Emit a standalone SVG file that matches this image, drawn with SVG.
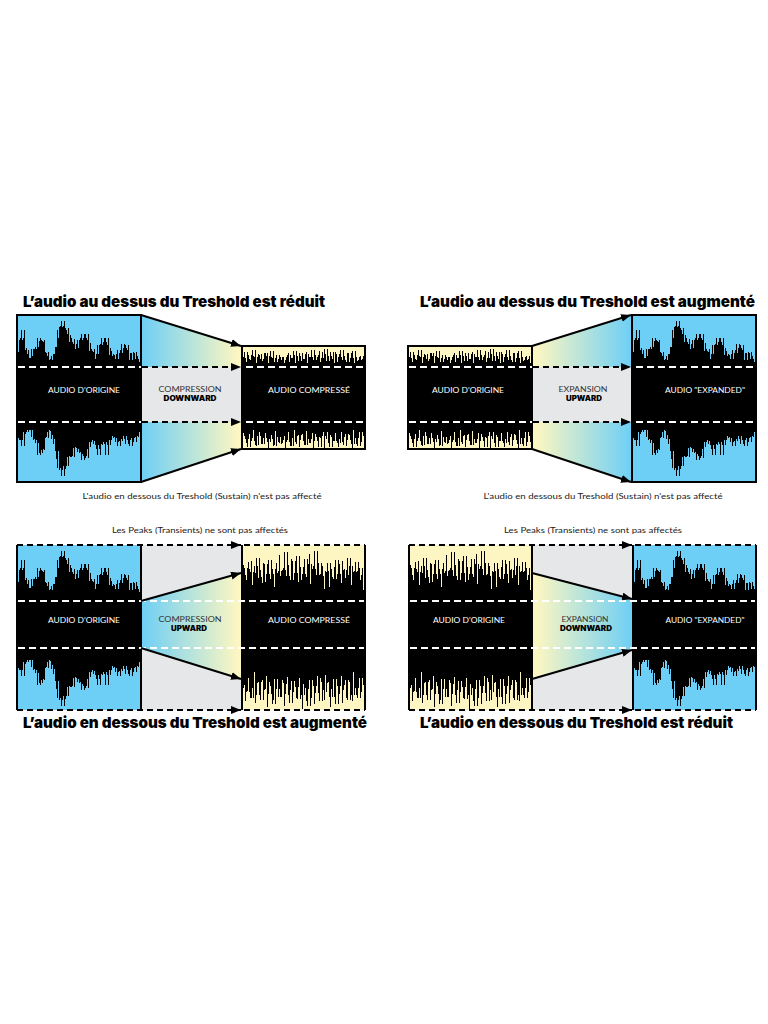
<svg xmlns="http://www.w3.org/2000/svg" xmlns:xlink="http://www.w3.org/1999/xlink" width="768" height="1024" viewBox="0 0 768 1024">
<style>
.title{font-family:Inter,Lato,"Liberation Sans",sans-serif;font-weight:900;font-size:15px;fill:#000}
.cap{font-family:Lato,"Liberation Sans",sans-serif;font-size:7px;fill:#222}
.lbl{font-family:Lato,"Liberation Sans",sans-serif;font-size:7px;fill:#fff}
.mid{font-family:Lato,"Liberation Sans",sans-serif;font-size:7.5px;fill:#333}
.midb{font-family:Inter,Lato,"Liberation Sans",sans-serif;font-size:7.5px;font-weight:900;fill:#000}
.blue{fill:#6dcff6}
.yel{fill:#fdf6c3}
.gray{fill:#e6e7e8}
.wave{fill:#000}
.out{fill:none;stroke:#000;stroke-width:2}
.edge{stroke:#000;stroke-width:2}
.thr{stroke:#fff;stroke-width:2;stroke-dasharray:7 4;fill:none}
.dsh{stroke:#000;stroke-width:2;stroke-dasharray:6 4;fill:none}
.arr{stroke:#000;stroke-width:2;fill:none}
</style>
<defs>
<linearGradient id="gBY" x1="0" y1="0" x2="1" y2="0">
<stop offset="0" stop-color="#6dcff6"/><stop offset="0.95" stop-color="#fbf6c2"/><stop offset="1" stop-color="#fdf6c3"/>
</linearGradient>
<linearGradient id="gYB" x1="0" y1="0" x2="1" y2="0">
<stop offset="0" stop-color="#fdf6c3"/><stop offset="0.05" stop-color="#fbf6c2"/><stop offset="1" stop-color="#6dcff6"/>
</linearGradient>
<marker id="ah" viewBox="0 0 10 8" refX="10" refY="4" markerWidth="10" markerHeight="8" markerUnits="userSpaceOnUse" orient="auto">
<path d="M0,0L10,4L0,8z" fill="#000"/>
</marker>
<clipPath id="cb"><rect x="17" y="315" width="124" height="167"/></clipPath>
<clipPath id="cys"><rect x="242" y="346" width="123" height="103"/></clipPath>
<clipPath id="cyl"><rect x="242" y="545" width="123" height="165"/></clipPath>
<path id="wbp" class="wave" d="M17,400V345h1V352h1V340h1V338h1V330h1V352h1V348h1V354h1V350h1V362h1V358h1V357h1V358h1V362h1V349h1V356h1V349h1V349h1V347h1V355h1V338h1V348h1V341h1V342h1V340h1V356h1V353h1V356h1V352h1V362h1V359h1V362h1V360h1V362h1V356h1V362h1V354h1V354h1V347h1V347h1V330h1V338h1V327h1V326h1V321h1V338h1V330h1V334h1V328h1V344h1V335h1V338h1V342h1V357h1V339h1V349h1V344h1V348h1V349h1V357h1V340h1V348h1V340h1V338h1V334h1V346h1V338h1V340h1V334h1V356h1V343h1V355h1V351h1V352h1V349h1V362h1V354h1V360h1V359h1V360h1V345h1V354h1V345h1V344h1V338h1V353h1V342h1V345h1V338h1V355h1V348h1V351h1V356h1V362h1V355h1V362h1V354h1V358h1V359h1V362h1V350h1V360h1V353h1V350h1V344h1V356h1V348h1V350h1V345h1V362h1V353h1V362h1V360h1V359h1V353h1V362h1V352h1V359h1V359h1V362h1V356h1V362h1V362h1V432h-1V430h-1V436h-1V429h-1V437h-1V431h-1V442h-1V429h-1V438h-1V433h-1V446h-1V430h-1V440h-1V432h-1V444h-1V430h-1V436h-1V431h-1V439h-1V430h-1V441h-1V436h-1V446h-1V431h-1V442h-1V430h-1V438h-1V429h-1V437h-1V430h-1V436h-1V440h-1V445h-1V440h-1V455h-1V436h-1V442h-1V441h-1V444h-1V438h-1V445h-1V433h-1V455h-1V449h-1V445h-1V436h-1V444h-1V436h-1V441h-1V430h-1V440h-1V442h-1V447h-1V442h-1V458h-1V449h-1V456h-1V454h-1V460h-1V443h-1V453h-1V449h-1V452h-1V437h-1V441h-1V431h-1V448h-1V447h-1V457h-1V445h-1V456h-1V456h-1V457h-1V452h-1V466h-1V454h-1V466h-1V469h-1V476h-1V466h-1V470h-1V451h-1V468h-1V459h-1V451h-1V439h-1V444h-1V435h-1V439h-1V430h-1V430h-1V429h-1V431h-1V430h-1V438h-1V432h-1V437h-1V431h-1V450h-1V449h-1V453h-1V443h-1V455h-1V433h-1V443h-1V439h-1V440h-1V430h-1V437h-1V430h-1V430h-1V428h-1V430h-1V428h-1V432h-1V429h-1V432h-1V434h-1V446h-1V428h-1V440h-1V438h-1V440h-1Z"/>
<path id="wysp" class="wave" d="M242,395V358h1V368h1V352h1V366h1V362h1V371h1V355h1V367h1V360h1V369h1V350h1V365h1V357h1V370h1V363h1V368h1V354h1V366h1V359h1V372h1V361h1V368h1V353h1V366h1V356h1V371h1V364h1V367h1V351h1V369h1V358h1V365h1V362h1V370h1V355h1V368h1V360h1V366h1V357h1V372h1V372h1V357h1V366h1V360h1V368h1V355h1V370h1V362h1V365h1V358h1V369h1V351h1V367h1V364h1V371h1V356h1V366h1V353h1V368h1V361h1V372h1V359h1V366h1V354h1V368h1V363h1V370h1V357h1V365h1V350h1V369h1V360h1V367h1V355h1V371h1V362h1V366h1V352h1V368h1V358h1V355h1V367h1V349h1V369h1V361h1V366h1V356h1V370h1V352h1V368h1V359h1V365h1V363h1V371h1V354h1V367h1V357h1V369h1V350h1V366h1V360h1V372h1V356h1V368h1V362h1V365h1V353h1V370h1V358h1V367h1V351h1V369h1V364h1V366h1V357h1V371h1V360h1V368h1V356h1V367h1V359h1V368h1V436h-1V425h-1V442h-1V427h-1V432h-1V424h-1V446h-1V429h-1V438h-1V426h-1V430h-1V428h-1V444h-1V424h-1V435h-1V426h-1V440h-1V430h-1V434h-1V425h-1V445h-1V425h-1V431h-1V427h-1V439h-1V424h-1V443h-1V429h-1V433h-1V426h-1V441h-1V428h-1V437h-1V424h-1V447h-1V426h-1V432h-1V430h-1V436h-1V425h-1V425h-1V436h-1V430h-1V432h-1V426h-1V447h-1V424h-1V437h-1V428h-1V441h-1V426h-1V433h-1V429h-1V443h-1V424h-1V439h-1V427h-1V431h-1V425h-1V445h-1V425h-1V434h-1V430h-1V440h-1V426h-1V435h-1V424h-1V444h-1V428h-1V430h-1V426h-1V438h-1V429h-1V446h-1V424h-1V432h-1V427h-1V442h-1V425h-1V436h-1V440h-1V427h-1V434h-1V424h-1V443h-1V426h-1V437h-1V429h-1V431h-1V425h-1V446h-1V428h-1V435h-1V424h-1V439h-1V426h-1V442h-1V430h-1V433h-1V427h-1V438h-1V425h-1V444h-1V428h-1V432h-1V424h-1V436h-1V429h-1V445h-1V426h-1V430h-1V427h-1V441h-1V425h-1V434h-1V430h-1V447h-1V424h-1V439h-1V426h-1V433h-1V427h-1Z"/>
<path id="wylp" class="wave" d="M242,625V575h1V592h1V568h1V588h1V580h1V596h1V562h1V590h1V572h1V594h1V585h1V586h1V566h1V597h1V558h1V591h1V578h1V589h1V570h1V595h1V583h1V592h1V564h1V588h1V574h1V596h1V560h1V590h1V579h1V594h1V569h1V586h1V587h1V597h1V563h1V591h1V571h1V589h1V576h1V595h1V570h1V590h1V552h1V594h1V576h1V588h1V565h1V596h1V580h1V591h1V561h1V587h1V573h1V595h1V556h1V589h1V582h1V593h1V567h1V590h1V574h1V586h1V559h1V597h1V577h1V592h1V564h1V588h1V584h1V594h1V569h1V591h1V551h1V589h1V575h1V596h1V563h1V590h1V579h1V593h1V595h1V576h1V589h1V571h1V591h1V563h1V597h1V587h1V586h1V569h1V594h1V579h1V590h1V560h1V596h1V574h1V588h1V564h1V592h1V583h1V595h1V570h1V589h1V578h1V591h1V558h1V597h1V566h1V586h1V585h1V594h1V572h1V590h1V562h1V596h1V580h1V588h1V568h1V592h1V575h1V568h1V592h1V685h-1V655h-1V692h-1V660h-1V678h-1V652h-1V698h-1V664h-1V688h-1V657h-1V672h-1V662h-1V695h-1V654h-1V682h-1V658h-1V700h-1V666h-1V680h-1V653h-1V690h-1V655h-1V676h-1V660h-1V694h-1V652h-1V686h-1V664h-1V704h-1V657h-1V679h-1V662h-1V689h-1V654h-1V697h-1V658h-1V683h-1V666h-1V675h-1V653h-1V690h-1V658h-1V682h-1V654h-1V701h-1V661h-1V676h-1V656h-1V693h-1V665h-1V686h-1V653h-1V698h-1V659h-1V680h-1V663h-1V706h-1V657h-1V688h-1V652h-1V684h-1V660h-1V695h-1V656h-1V678h-1V664h-1V699h-1V654h-1V687h-1V661h-1V692h-1V658h-1V681h-1V655h-1V703h-1V662h-1V677h-1V657h-1V694h-1V653h-1V653h-1V675h-1V666h-1V683h-1V658h-1V697h-1V654h-1V689h-1V662h-1V679h-1V657h-1V704h-1V664h-1V686h-1V652h-1V694h-1V660h-1V676h-1V655h-1V690h-1V653h-1V680h-1V666h-1V700h-1V658h-1V682h-1V654h-1V695h-1V662h-1V672h-1V657h-1V688h-1V664h-1V698h-1V652h-1V678h-1V660h-1V692h-1V655h-1V685h-1V688h-1V659h-1Z"/>
<g id="wb" clip-path="url(#cb)">
<use xlink:href="#wbp"/><use xlink:href="#wbp" x="3"/>
</g>
<g id="wys" clip-path="url(#cys)">
<rect class="wave" x="242" y="363" width="123" height="66"/>
<use xlink:href="#wysp"/><use xlink:href="#wysp" x="3"/><use xlink:href="#wysp" x="-5" y="2"/>
</g>
<g id="wyl" clip-path="url(#cyl)">
<rect class="wave" x="242" y="590" width="123" height="70"/>
<use xlink:href="#wylp"/><use xlink:href="#wylp" x="3"/><use xlink:href="#wylp" x="-5" y="3"/>
</g>
</defs>
<rect width="768" height="1024" fill="#fff"/>

<!-- ===== Panel 1: top-left ===== -->
<text class="title" x="23" y="307" textLength="302" lengthAdjust="spacingAndGlyphs">L’audio au dessus du Treshold est réduit</text>
<g id="tl-process">
<polygon points="141,315 242,346 242,449 141,482" fill="url(#gBY)"/>
<rect class="gray" x="141" y="367" width="101" height="55"/>
<text class="mid" x="190" y="392" text-anchor="middle" textLength="63" lengthAdjust="spacingAndGlyphs">COMPRESSION</text>
<text class="midb" x="190" y="401" text-anchor="middle" textLength="53" lengthAdjust="spacingAndGlyphs">DOWNWARD</text>
</g>
<g id="tl-origin">
<rect class="blue" x="17" y="315" width="124" height="167"/>
<use xlink:href="#wb"/>
<rect class="out" x="17" y="315" width="124" height="167"/>
<text class="lbl" x="84" y="393" text-anchor="middle" textLength="72" lengthAdjust="spacingAndGlyphs">AUDIO D'ORIGINE</text>
</g>
<g id="tl-result">
<rect class="yel" x="242" y="346" width="123" height="103"/>
<use xlink:href="#wys"/>
<rect class="out" x="242" y="346" width="123" height="103"/>
<text class="lbl" x="309" y="393" text-anchor="middle" textLength="82" lengthAdjust="spacingAndGlyphs">AUDIO COMPRESSÉ</text>
</g>
<text class="cap" x="202" y="499" text-anchor="middle" textLength="239" lengthAdjust="spacingAndGlyphs">L'audio en dessous du Treshold (Sustain) n'est pas affecté</text>

<!-- ===== Panel 2: top-right ===== -->
<text class="title" x="420" y="307" textLength="335" lengthAdjust="spacingAndGlyphs">L’audio au dessus du Treshold est augmenté</text>
<g id="tr-process">
<polygon points="532,346 632,315 632,482 532,449" fill="url(#gYB)"/>
<rect class="gray" x="532" y="367" width="100" height="55"/>
<text class="mid" x="583" y="392" text-anchor="middle" textLength="49" lengthAdjust="spacingAndGlyphs">EXPANSION</text>
<text class="midb" x="584" y="401" text-anchor="middle" textLength="36" lengthAdjust="spacingAndGlyphs">UPWARD</text>
</g>
<g id="tr-origin">
<rect class="yel" x="408" y="346" width="124" height="103"/>
<use xlink:href="#wys" transform="translate(166,0)"/>
<rect class="out" x="408" y="346" width="124" height="103"/>
<text class="lbl" x="468" y="393" text-anchor="middle" textLength="72" lengthAdjust="spacingAndGlyphs">AUDIO D'ORIGINE</text>
</g>
<g id="tr-result">
<rect class="blue" x="632" y="315" width="124" height="167"/>
<use xlink:href="#wb" transform="translate(615,0)"/>
<rect class="out" x="632" y="315" width="124" height="167"/>
<text class="lbl" x="705" y="393" text-anchor="middle" textLength="80" lengthAdjust="spacingAndGlyphs">AUDIO "EXPANDED"</text>
</g>
<text class="cap" x="603" y="499" text-anchor="middle" textLength="239" lengthAdjust="spacingAndGlyphs">L'audio en dessous du Treshold (Sustain) n'est pas affecté</text>

<!-- ===== Panel 3: bottom-left ===== -->
<text class="cap" x="200" y="533" text-anchor="middle" textLength="176" lengthAdjust="spacingAndGlyphs">Les Peaks (Transients) ne sont pas affectés</text>
<g id="bl-process">
<rect class="gray" x="141" y="545" width="101" height="165"/>
<polygon points="141,601 242,573 242,679 141,648" fill="url(#gBY)"/>
<text class="mid" x="190" y="622" text-anchor="middle" textLength="63" lengthAdjust="spacingAndGlyphs">COMPRESSION</text>
<text class="midb" x="189" y="631" text-anchor="middle" textLength="36" lengthAdjust="spacingAndGlyphs">UPWARD</text>
</g>
<g id="bl-origin">
<rect class="blue" x="17" y="545" width="124" height="165"/>
<use xlink:href="#wb" transform="translate(0,230)"/>
<line class="edge" x1="17" y1="545" x2="17" y2="710"/>
<line class="edge" x1="141" y1="545" x2="141" y2="710"/>
<text class="lbl" x="84" y="623" text-anchor="middle" textLength="72" lengthAdjust="spacingAndGlyphs">AUDIO D'ORIGINE</text>
</g>
<g id="bl-result">
<rect class="yel" x="242" y="545" width="123" height="165"/>
<use xlink:href="#wyl"/>
<line class="edge" x1="242" y1="545" x2="242" y2="710"/>
<line class="edge" x1="365" y1="545" x2="365" y2="710"/>
<text class="lbl" x="309" y="623" text-anchor="middle" textLength="82" lengthAdjust="spacingAndGlyphs">AUDIO COMPRESSÉ</text>
</g>
<text class="title" x="23" y="728" textLength="344" lengthAdjust="spacingAndGlyphs">L’audio en dessous du Treshold est augmenté</text>

<!-- ===== Panel 4: bottom-right ===== -->
<text class="cap" x="593" y="533" text-anchor="middle" textLength="178" lengthAdjust="spacingAndGlyphs">Les Peaks (Transients) ne sont pas affectés</text>
<g id="br-process">
<rect class="gray" x="532" y="545" width="101" height="165"/>
<polygon points="532,573 633,599 633,650 532,679" fill="url(#gYB)"/>
<text class="mid" x="585" y="622" text-anchor="middle" textLength="47" lengthAdjust="spacingAndGlyphs">EXPANSION</text>
<text class="midb" x="586" y="631" text-anchor="middle" textLength="52" lengthAdjust="spacingAndGlyphs">DOWNWARD</text>
</g>
<g id="br-origin">
<rect class="yel" x="409" y="545" width="123" height="165"/>
<use xlink:href="#wyl" transform="translate(167,0)"/>
<line class="edge" x1="409" y1="545" x2="409" y2="710"/>
<line class="edge" x1="532" y1="545" x2="532" y2="710"/>
<text class="lbl" x="469" y="623" text-anchor="middle" textLength="72" lengthAdjust="spacingAndGlyphs">AUDIO D'ORIGINE</text>
</g>
<g id="br-result">
<rect class="blue" x="633" y="545" width="123" height="165"/>
<use xlink:href="#wb" transform="translate(616,230)"/>
<line class="edge" x1="633" y1="545" x2="633" y2="710"/>
<line class="edge" x1="756" y1="545" x2="756" y2="710"/>
<text class="lbl" x="705" y="623" text-anchor="middle" textLength="79" lengthAdjust="spacingAndGlyphs">AUDIO "EXPANDED"</text>
</g>
<text class="title" x="420" y="728" textLength="313" lengthAdjust="spacingAndGlyphs">L’audio en dessous du Treshold est réduit</text>

<!-- ===== Connectors ===== -->
<g id="connectors">
<!-- top-left -->
<line class="thr" x1="18" y1="367" x2="141" y2="367"/>
<line class="thr" x1="18" y1="422" x2="141" y2="422"/>
<line class="thr" x1="246" y1="367" x2="364" y2="367"/>
<line class="thr" x1="246" y1="422" x2="364" y2="422"/>
<line class="dsh" x1="142" y1="367" x2="241" y2="367" marker-end="url(#ah)"/>
<line class="dsh" x1="142" y1="422" x2="241" y2="422" marker-end="url(#ah)"/>
<line class="arr" x1="141" y1="315" x2="241" y2="346" marker-end="url(#ah)"/>
<line class="arr" x1="141" y1="482" x2="241" y2="449" marker-end="url(#ah)"/>
<!-- top-right -->
<line class="thr" x1="409" y1="367" x2="532" y2="367"/>
<line class="thr" x1="636" y1="367" x2="755" y2="367"/>
<line class="thr" x1="409" y1="422" x2="532" y2="422"/>
<line class="thr" x1="636" y1="422" x2="755" y2="422"/>
<line class="dsh" x1="533" y1="367" x2="631" y2="367" marker-end="url(#ah)"/>
<line class="dsh" x1="533" y1="422" x2="631" y2="422" marker-end="url(#ah)"/>
<line class="arr" x1="532" y1="346" x2="631" y2="315" marker-end="url(#ah)"/>
<line class="arr" x1="532" y1="449" x2="631" y2="482" marker-end="url(#ah)"/>
<!-- bottom-left -->
<line class="thr" x1="18" y1="601" x2="364" y2="601"/>
<line class="thr" x1="18" y1="648" x2="364" y2="648"/>
<line class="dsh" x1="17" y1="545" x2="241" y2="545" marker-end="url(#ah)"/>
<line class="dsh" x1="244" y1="545" x2="365" y2="545"/>
<line class="dsh" x1="17" y1="710" x2="241" y2="710" marker-end="url(#ah)"/>
<line class="dsh" x1="244" y1="710" x2="365" y2="710"/>
<line class="arr" x1="141" y1="601" x2="241" y2="573" marker-end="url(#ah)"/>
<line class="arr" x1="141" y1="648" x2="241" y2="679" marker-end="url(#ah)"/>
<!-- bottom-right -->
<line class="thr" x1="410" y1="601" x2="755" y2="601"/>
<line class="thr" x1="410" y1="648" x2="755" y2="648"/>
<line class="dsh" x1="409" y1="545" x2="632" y2="545" marker-end="url(#ah)"/>
<line class="dsh" x1="635" y1="545" x2="756" y2="545"/>
<line class="dsh" x1="409" y1="710" x2="632" y2="710" marker-end="url(#ah)"/>
<line class="dsh" x1="635" y1="710" x2="756" y2="710"/>
<line class="arr" x1="532" y1="573" x2="632" y2="599" marker-end="url(#ah)"/>
<line class="arr" x1="532" y1="679" x2="632" y2="650" marker-end="url(#ah)"/>
</g>
</svg>
